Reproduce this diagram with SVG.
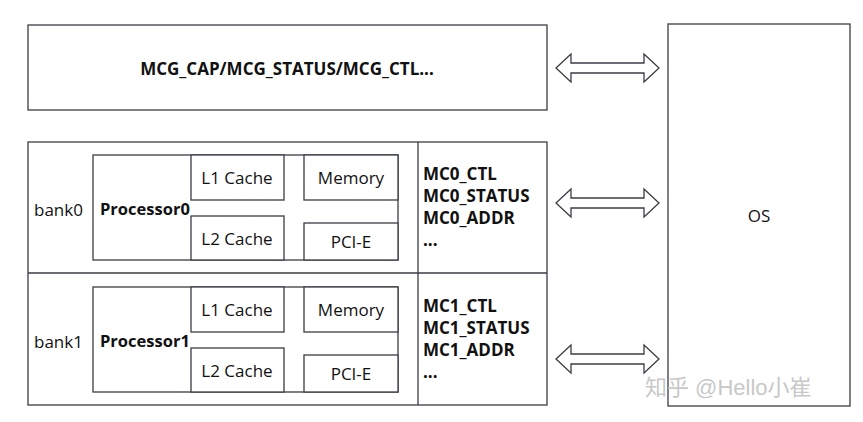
<svg xmlns="http://www.w3.org/2000/svg" width="863" height="422" viewBox="0 0 863 422">
<style>
.b{fill:#fff;stroke:#3a3d45;stroke-width:1.3}
.t{font-family:"Open Sans","Noto Sans","Liberation Sans",sans-serif;font-size:17px;fill:#111}
.bd{font-family:"Open Sans","Liberation Sans",sans-serif;font-size:17px;font-weight:bold;fill:#111}
.ar{fill:#fff;stroke:#3a3d45;stroke-width:1.3}
</style>
<defs>
<path id="arr" class="ar" d="M0,0 L15,-14 L15,-5 L88,-5 L88,-14 L103,0 L88,14 L88,5 L15,5 L15,14 Z"/>
</defs>
<rect width="863" height="422" fill="#fff"/>
<g id="mcg"><rect class="b" x="28" y="25" width="519" height="85"/><text class="bd" x="287" y="75" text-anchor="middle">MCG_CAP/MCG_STATUS/MCG_CTL...</text></g>
<g id="banks"><rect class="b" x="28" y="142" width="519" height="263"/><line class="b" x1="28" y1="273" x2="547" y2="273"/><line class="b" x1="418" y1="142" x2="418" y2="405"/></g>
<g id="bank0">
<text class="t" x="34" y="216">bank0</text>
<rect class="b" x="93" y="155" width="305" height="105"/>
<text class="bd" x="100" y="215" style="font-size:16.5px">Processor0</text>
<rect class="b" x="191" y="155" width="93" height="45"/><text class="t" x="237" y="184" text-anchor="middle">L1 Cache</text>
<rect class="b" x="191" y="216" width="93" height="44"/><text class="t" x="237" y="245" text-anchor="middle">L2 Cache</text>
<rect class="b" x="304" y="155" width="94" height="45"/><text class="t" x="351" y="184" text-anchor="middle">Memory</text>
<rect class="b" x="304" y="223" width="94" height="37"/><text class="t" x="351" y="248" text-anchor="middle">PCI-E</text>
<text class="bd" x="423" y="180">MC0_CTL</text><text class="bd" x="423" y="202">MC0_STATUS</text><text class="bd" x="423" y="224">MC0_ADDR</text><text class="bd" x="423" y="246">...</text>
</g>
<g id="bank1">
<text class="t" x="34" y="348">bank1</text>
<rect class="b" x="93" y="287" width="305" height="105"/>
<text class="bd" x="100" y="347" style="font-size:16.5px">Processor1</text>
<rect class="b" x="191" y="287" width="93" height="45"/><text class="t" x="237" y="316" text-anchor="middle">L1 Cache</text>
<rect class="b" x="191" y="348" width="93" height="44"/><text class="t" x="237" y="377" text-anchor="middle">L2 Cache</text>
<rect class="b" x="304" y="287" width="94" height="45"/><text class="t" x="351" y="316" text-anchor="middle">Memory</text>
<rect class="b" x="304" y="355" width="94" height="37"/><text class="t" x="351" y="380" text-anchor="middle">PCI-E</text>
<text class="bd" x="423" y="312">MC1_CTL</text><text class="bd" x="423" y="334">MC1_STATUS</text><text class="bd" x="423" y="356">MC1_ADDR</text><text class="bd" x="423" y="378">...</text>
</g>
<g id="os"><rect class="b" x="668" y="24" width="182" height="382"/><text class="t" x="759" y="222" text-anchor="middle">OS</text></g>
<g id="connectors">
<use href="#arr" x="556" y="68"/>
<use href="#arr" x="556" y="203"/>
<use href="#arr" x="556" y="359"/>
</g>
<text x="645" y="395" font-family="'Liberation Sans','Noto Sans CJK SC',sans-serif" font-size="22" fill="#c8c8c8">知乎 @Hello小崔</text>
</svg>
